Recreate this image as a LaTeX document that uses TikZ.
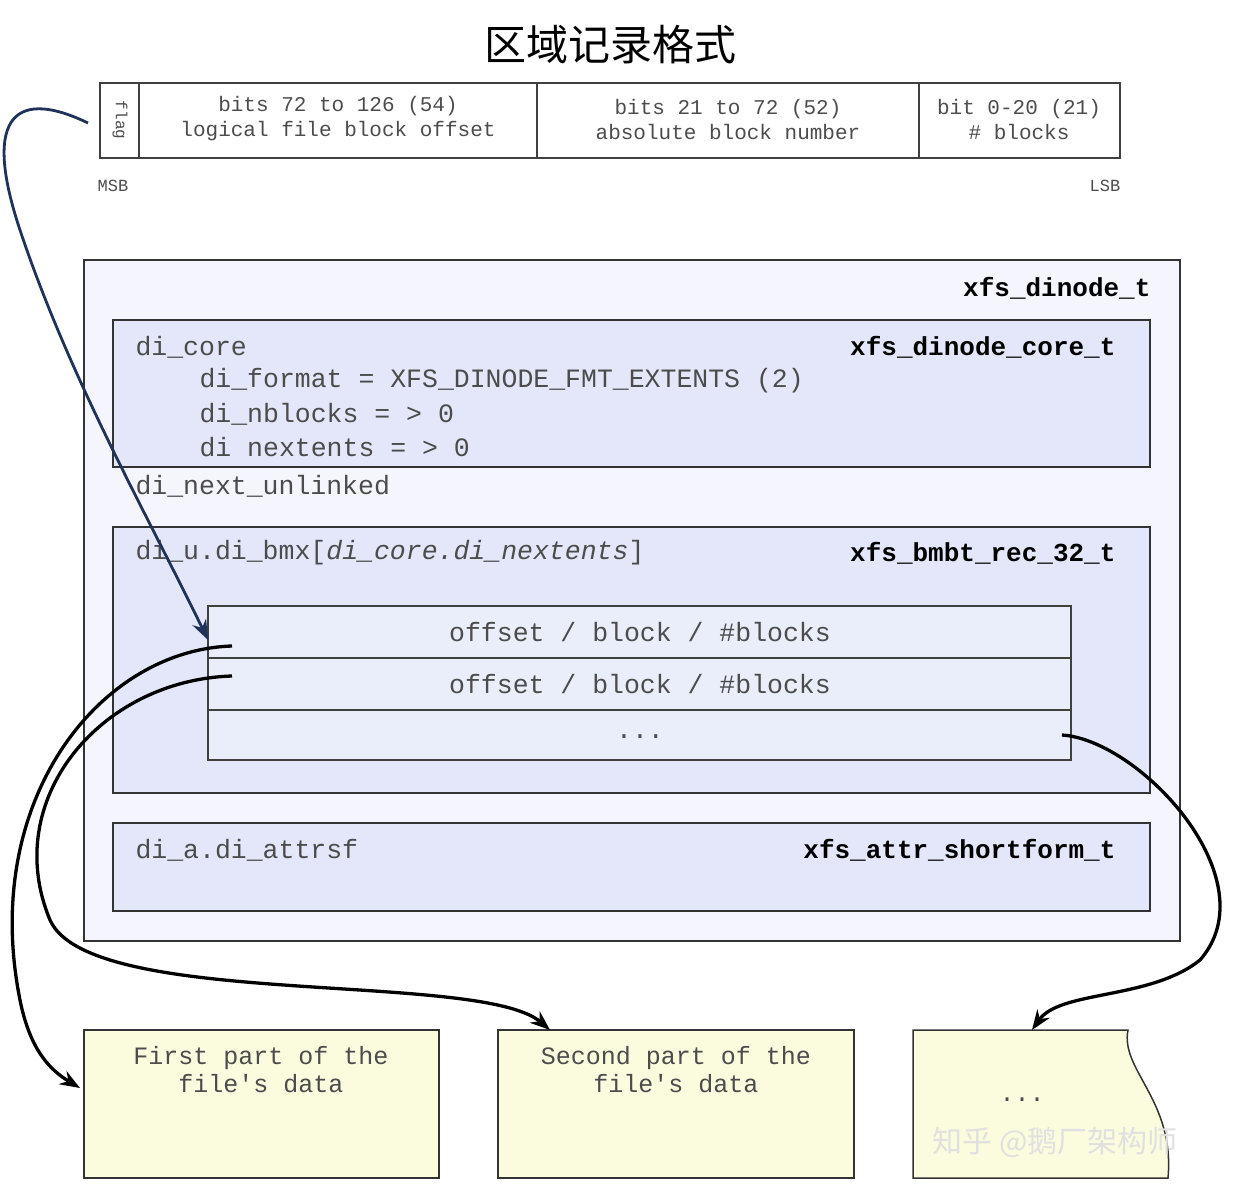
\documentclass[tikz,border=0pt]{standalone}
\usepackage{fontspec}
\setmonofont{Liberation Mono}
\newfontfamily\cjk{Noto Sans CJK SC}
\usetikzlibrary{arrows.meta}
\begin{document}
\begin{tikzpicture}[x=1pt,y=-1pt,
  cell/.style={draw=black!75,line width=1.2pt},
  mono/.style={font=\ttfamily\fontsize{21}{25}\selectfont,text=black!70},
  bigmono/.style={font=\ttfamily\fontsize{26.5}{30}\selectfont,text=black!70},
  boldlbl/.style={font=\ttfamily\bfseries\fontsize{26}{30}\selectfont,anchor=east},
  inner/.style={draw=black!80,line width=1.5pt,fill={rgb,255:red,228;green,231;blue,249}},
  databox/.style={draw=black!80,line width=1.5pt,fill={rgb,255:red,251;green,251;blue,222}},
  conn/.style={line width=3.3pt,-{Stealth[length=20pt,width=15pt]}}]
\useasboundingbox (0,0) rectangle (1239,1195);
\node[font=\cjk\fontsize{42}{46}\selectfont] (title) at (610,45) {区域记录格式};
% top bar
\draw[cell] (100,83) rectangle (1120,158);
\draw[cell] (139,83) -- (139,158) (537,83) -- (537,158) (919,83) -- (919,158);
\node[mono,rotate=-90,font=\ttfamily\fontsize{16}{18}\selectfont] (flag) at (120,120) {flag};
\node[mono,align=center] (f1) at (338,119) {bits 72 to 126 (54)\\logical file block offset};
\node[mono,align=center] (f2) at (728,119) {bits 21 to 72 (52)\\absolute block number};
\node[mono,align=center] (f3) at (1019,119) {bit 0-20 (21)\\\# blocks};
\node[mono,font=\ttfamily\fontsize{17}{18}\selectfont] (msb) at (113,186) {MSB};
\node[mono,font=\ttfamily\fontsize{17}{18}\selectfont] (lsb) at (1105,186) {LSB};
% outer
\draw[line width=1.5pt,draw=black!80,fill={rgb,255:red,245;green,245;blue,253}] (84,260) rectangle (1180,941);
\node[boldlbl] (l0) at (1154,288) {xfs\_dinode\_t};
\draw[inner] (113,320) rectangle (1150,467);
\node[boldlbl] (l1) at (1119,347) {xfs\_dinode\_core\_t};
\node[bigmono,anchor=west] (c1) at (132,347) {di\_core};
\node[bigmono,anchor=west] (c2) at (196,381) {di\_format = XFS\_DINODE\_FMT\_EXTENTS (2)};
\node[bigmono,anchor=west] (c3) at (196,414) {di\_nblocks = > 0};
\node[bigmono,anchor=west] (c4) at (196,447) {di nextents = > 0};
\node[bigmono,anchor=west] (nu) at (132,486) {di\_next\_unlinked};
\draw[inner] (113,527) rectangle (1150,793);
\node[boldlbl] (l2) at (1119,553) {xfs\_bmbt\_rec\_32\_t};
\node[bigmono,anchor=west] (u1) at (132,553) {di\_u.di\_bmx[\textit{di\_core.di\_nextents}]};
\draw[cell,fill={rgb,255:red,234;green,237;blue,250}] (208,606) rectangle (1071,760);
\draw[cell] (208,658) -- (1071,658) (208,710) -- (1071,710);
\node[bigmono] (r1) at (640,632) {offset / block / \#blocks};
\node[bigmono] (r2) at (640,684) {offset / block / \#blocks};
\node[bigmono] (r3) at (640,737) {...};
\coordinate (r1w) at (208,640);
\draw[inner] (113,823) rectangle (1150,911);
\node[boldlbl] (l3) at (1119,850) {xfs\_attr\_shortform\_t};
\node[bigmono,anchor=west] (a1) at (132,850) {di\_a.di\_attrsf};
% data boxes
\draw[databox] (84,1030) rectangle (439,1178);
\node[mono,font=\ttfamily\fontsize{25}{28}\selectfont,align=center,anchor=north] (d1) at (261,1043) {First part of the\\file's data};
\draw[databox] (498,1030) rectangle (854,1178);
\node[mono,font=\ttfamily\fontsize{25}{28}\selectfont,align=center,anchor=north] (d2) at (676,1043) {Second part of the\\file's data};
\draw[databox] (913,1030) -- (1128,1030) .. controls (1120,1070) and (1175,1100) .. (1168,1178) -- (913,1178) -- cycle;
\node[mono,font=\ttfamily\fontsize{25}{28}\selectfont] (d3) at (1022,1100) {...};
\coordinate (d1t) at (80,1088);
\coordinate (d2t) at (550,1030);
\coordinate (d3t) at (1032,1030);
\coordinate (s1) at (232,646);
\coordinate (s2) at (232,676);
\coordinate (s3) at (1062,735);
\coordinate (fl) at (88,123);
% connectors
\draw[conn,line width=2.8pt,draw={rgb,255:red,30;green,50;blue,90}] (fl) .. controls (20,90) and (-20,110) .. (20,230) .. controls (70,380) and (150,520) .. (r1w);
\draw[conn] (s1) .. controls (100,650) and (-20,800) .. (20,1000) .. controls (30,1050) and (50,1070) .. (d1t);
\draw[conn] (s2) .. controls (100,680) and (0,800) .. (50,920) .. controls (90,1010) and (480,970) .. (d2t);
\draw[conn] (s3) .. controls (1140,740) and (1270,880) .. (1200,960) .. controls (1150,1000) and (1060,990) .. (d3t);
\node[font=\cjk\fontsize{30}{34}\selectfont,text=black!12] (wm) at (1055,1142) {知乎 @鹅厂架构师};
\end{tikzpicture}
\end{document}
